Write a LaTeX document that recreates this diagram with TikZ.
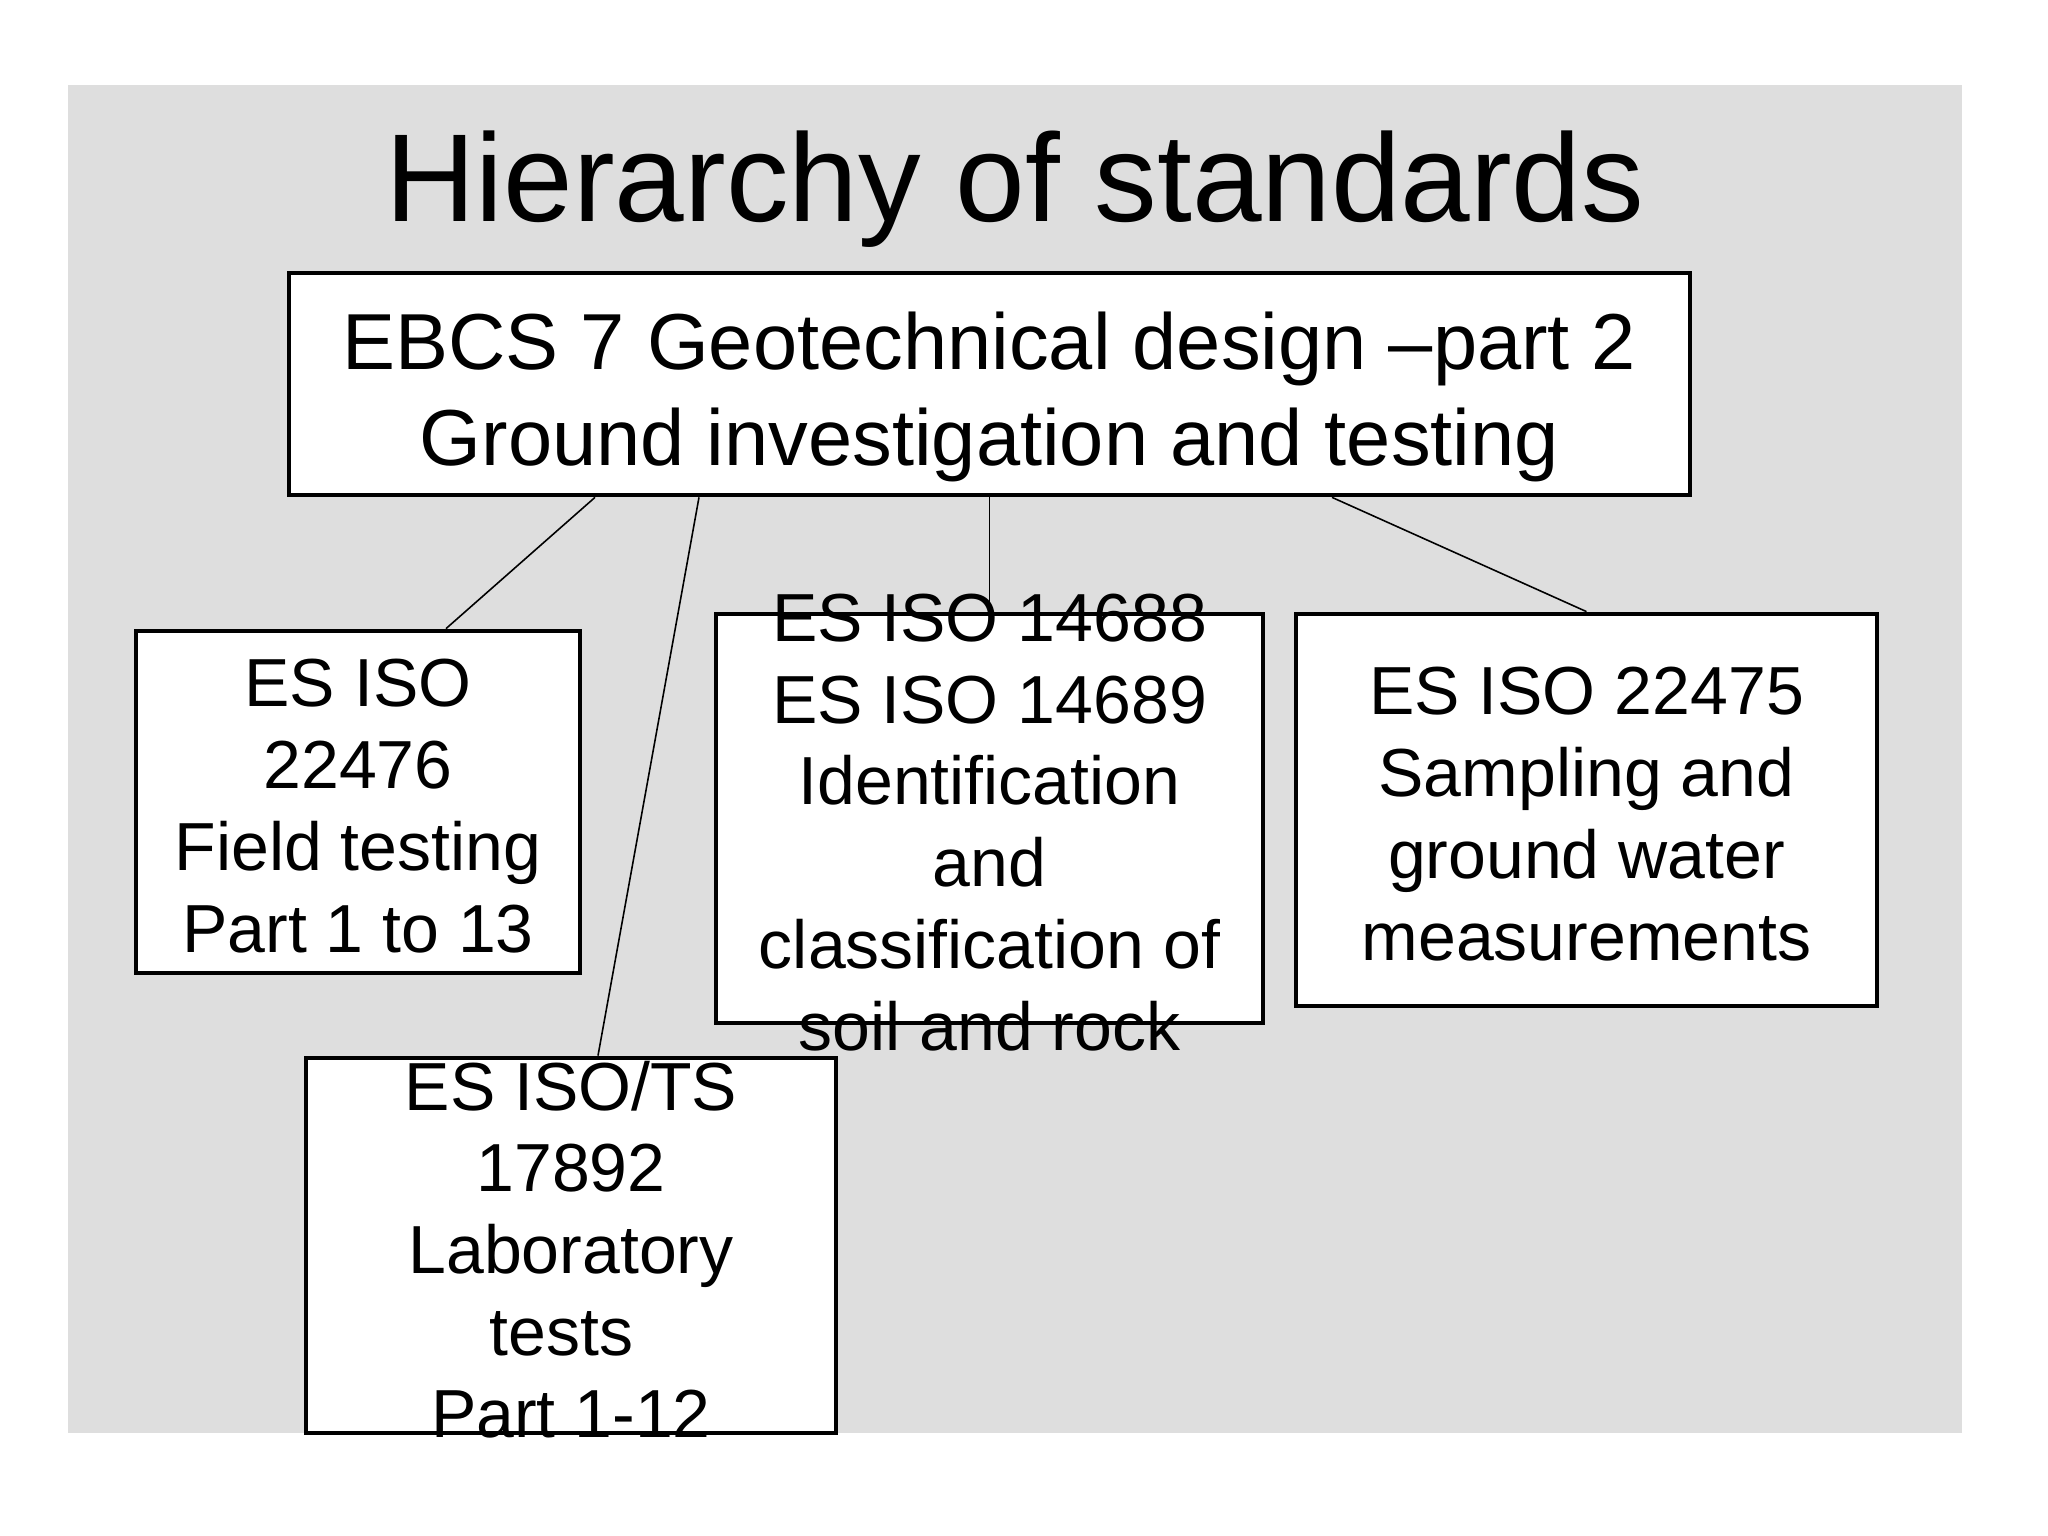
\documentclass[tikz,border=0pt]{standalone}
\usepackage{fontspec}
\setmainfont{Liberation Sans}
\usepackage{tikz}
\definecolor{paper}{RGB}{222,222,222}
\tikzstyle{heading} = [anchor=base, font=\fontsize{35.6}{42}\selectfont]
\tikzstyle{frame} = [rectangle, draw=black, line width=1.35pt, fill=white, inner sep=0pt]
\tikzstyle{headtext} = [align=center, font=\fontsize{22.6}{27.2}\selectfont]
\tikzstyle{boxtext} = [align=center, font=\fontsize{19.35}{23.3}\selectfont]
\tikzstyle{link} = [line width=0.45pt]

\begin{document}
\begin{tikzpicture}
\useasboundingbox (0,0) rectangle (20.48,-15.36);
\fill [paper] (0.68,-0.85) rectangle (19.62,-14.33);

\node (title) [heading] at (10.15,-2.22) {Hierarchy of standards};

\node (ebcs) [frame, minimum width=14.01cm, minimum height=2.22cm] at (9.895,-3.84) {};
\node (field) [frame, minimum width=4.44cm, minimum height=3.42cm] at (3.58,-8.02) {};
\node (lab) [frame, minimum width=5.30cm, minimum height=3.75cm] at (5.71,-12.455) {};
\node (iden) [frame, minimum width=5.47cm, minimum height=4.09cm] at (9.895,-8.185) {};
\node (samp) [frame, minimum width=5.81cm, minimum height=3.92cm] at (15.865,-8.10) {};

\draw [link] ([xshift=-3.945cm]ebcs.south) -- ([xshift=0.88cm]field.north);
\draw [link] ([xshift=-2.905cm]ebcs.south) -- ([xshift=0.27cm]lab.north);
\draw [link] (ebcs.south) -- (iden.north);
\draw [link] ([xshift=3.425cm]ebcs.south) -- (samp.north);

\node (ebcstext) [headtext, yshift=-0.13cm] at (ebcs) {EBCS 7 Geotechnical design –part 2\\Ground investigation and testing};
\node (fieldtext) [boxtext, yshift=-0.04cm] at (field) {ES ISO\\22476\\Field testing\\Part 1 to 13};
\node (labtext) [boxtext, yshift=-0.04cm] at (lab) {ES ISO/TS\\17892\\Laboratory\\tests\kern.278em\\Part 1-12};
\node (identext) [boxtext, yshift=-0.04cm] at (iden) {ES ISO 14688\\ES ISO 14689\\Identification\\and\\classification of\\soil and rock};
\node (samptext) [boxtext, yshift=-0.04cm] at (samp) {ES ISO 22475\\Sampling and\\ground water\\measurements};

\end{tikzpicture}
\end{document}
